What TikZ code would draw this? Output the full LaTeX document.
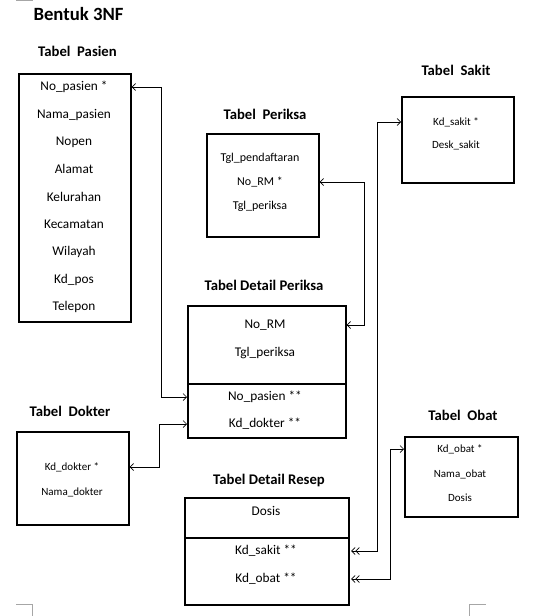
\documentclass[tikz,border=0pt]{standalone}
\usepackage{fontspec}
\setmainfont{Carlito}
\usetikzlibrary{arrows.meta}
\tikzset{
	tabel/.style={draw, line width=1.6pt, anchor=north west, inner sep=0pt},
	judul/.style={font=\fontsize{14.7}{16}\selectfont\bfseries},
	isi/.style={font=\fontsize{13.3}{15}\selectfont},
	isikecil/.style={font=\fontsize{11}{13}\selectfont},
	barb/.tip={Straight Barb[length=3.5pt,width=7pt]},
	link/.style={line width=0.7pt, barb-barb},
	linkdua/.style={line width=0.7pt, {barb[sep=1.5pt] barb[]}-barb},
	tanda/.style={color=gray!70, line width=0.8pt}
}
\begin{document}
\begin{tikzpicture}[x=1pt,y=-1pt]
	\useasboundingbox (0,0) rectangle (534,616);
	\draw [tanda] (16,0.5) -- (33,0.5);
	\draw [tanda] (16,604) -- (32,604) -- (32,616);
	\draw [tanda] (469,616) -- (469,604) -- (486,604);
	\node [font=\fontsize{18.7}{20}\selectfont\bfseries] (judul) at (78.5,14) {Bentuk 3NF};
	% tabel pasien
	\node [judul] (tpasien) at (77.5,51) {Tabel\ \ Pasien};
	\node [tabel, minimum width=112pt, minimum height=248pt] (pasien) at (18,73) {};
	\node [isi] (nopasien) at (74,87) {No\_pasien *};
	\node [isi] (namapasien) at (74,115) {Nama\_pasien};
	\node [isi] (nopen) at (74,142) {Nopen};
	\node [isi] (alamat) at (74,169) {Alamat};
	\node [isi] (kelurahan) at (74,197) {Kelurahan};
	\node [isi] (kecamatan) at (74,224) {Kecamatan};
	\node [isi] (wilayah) at (74,252) {Wilayah};
	\node [isi] (kdpos) at (74,280) {Kd\_pos};
	\node [isi] (telepon) at (74,307) {Telepon};
	% tabel periksa
	\node [judul] (tperiksa) at (265,114) {Tabel\ \ Periksa};
	\node [tabel, minimum width=112pt, minimum height=103pt] (periksa) at (206,133) {};
	\node [font=\fontsize{12}{14}\selectfont] (tglpendaftaran) at (260,158) {Tgl\_pendaftaran};
	\node [font=\fontsize{12}{14}\selectfont] (norm) at (260,182) {No\_RM *};
	\node [font=\fontsize{12}{14}\selectfont] (tglperiksa) at (260,206) {Tgl\_periksa};
	% tabel detail periksa
	\node [judul] (tdperiksa) at (264,285) {Tabel Detail Periksa};
	\node [tabel, minimum width=158pt, minimum height=78pt] (dperiksaatas) at (187,305) {};
	\node [tabel, minimum width=158pt, minimum height=54pt] (dperiksabawah) at (187,383) {};
	\node [isi] (dnorm) at (265,325) {No\_RM};
	\node [isi] (dtglperiksa) at (265,353) {Tgl\_periksa};
	\node [isi] (dnopasien) at (265,397) {No\_pasien **};
	\node [isi] (dkddokter) at (265,424) {Kd\_dokter **};
	% tabel dokter
	\node [judul] (tdokter) at (70,411) {Tabel\ \ Dokter};
	\node [tabel, minimum width=112pt, minimum height=93pt] (dokter) at (16,431) {};
	\node [isikecil] (kddokter) at (72,467) {Kd\_dokter *};
	\node [isikecil] (namadokter) at (72,492) {Nama\_dokter};
	% tabel sakit
	\node [judul] (tsakit) at (456,70) {Tabel\ \ Sakit};
	\node [tabel, minimum width=112pt, minimum height=86pt] (sakit) at (401,96) {};
	\node [isikecil] (kdsakit) at (456,122) {Kd\_sakit *};
	\node [isikecil] (desksakit) at (456,145) {Desk\_sakit};
	% tabel obat
	\node [judul] (tobat) at (463,415) {Tabel\ \ Obat};
	\node [tabel, minimum width=113pt, minimum height=80pt] (obat) at (404,436) {};
	\node [isikecil] (kdobat) at (460,449) {Kd\_obat *};
	\node [isikecil] (namaobat) at (460,474) {Nama\_obat};
	\node [isikecil] (dosis) at (460,498) {Dosis};
	% tabel detail resep
	\node [judul] (tresep) at (269,480) {Tabel Detail Resep};
	\node [tabel, minimum width=164pt, minimum height=40pt] (resepatas) at (184,497) {};
	\node [tabel, minimum width=164pt, minimum height=67pt] (resepbawah) at (184,537) {};
	\node [isi] (rdosis) at (266,511) {Dosis};
	\node [isi] (rkdsakit) at (266,551) {Kd\_sakit **};
	\node [isi] (rkdobat) at (266,579) {Kd\_obat **};
	% relasi
	\draw [link] (pasien.east |- nopasien) -- ++(30,0) |- (dperiksabawah.west |- dnopasien);
	\draw [link] (periksa.east |- norm) -- ++(45,0) |- (dperiksaatas.east |- dnorm);
	\draw [link] (dokter.east |- kddokter) -- ++(30,0) |- (dperiksabawah.west |- dkddokter);
	\draw [linkdua] (resepbawah.east |- rkdsakit) -- ++(28,0) |- (sakit.west |- kdsakit);
	\draw [linkdua] (resepbawah.east |- rkdobat) -- ++(41,0) |- (obat.west |- kdobat);
\end{tikzpicture}
\end{document}
